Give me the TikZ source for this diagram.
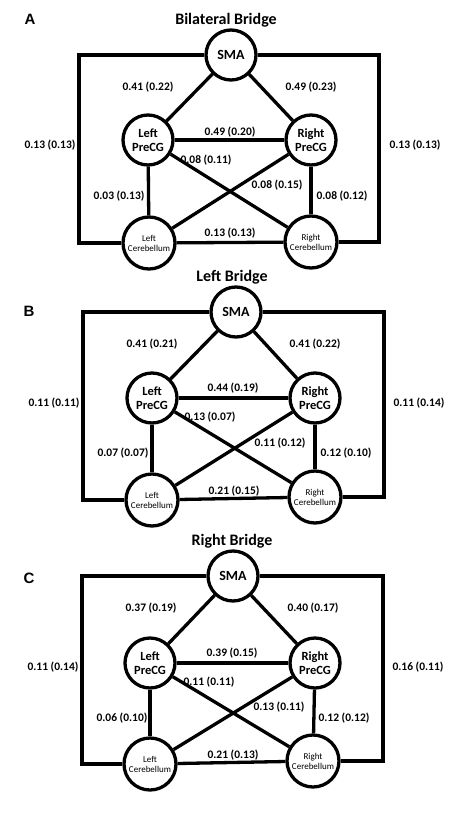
\documentclass[tikz,border=0pt]{standalone}
\usepackage{fontspec}
\setmainfont{Carlito}
\newfontfamily\letterfont{Liberation Sans}

\begin{document}
\begin{tikzpicture}[
x = 1pt,
y = -1pt,
every node/.style = {
	font = \bfseries\fontsize{11.5}{13}\selectfont,
	inner sep = 1pt
},
link/.style = {
	line width = 3.3pt
},
region/.style = {
	draw,
	circle,
	line width = 3.3pt,
	minimum size = 50pt,
	align = center,
	font = \bfseries\fontsize{12.5}{14}\selectfont
},
sma/.style = {
	region,
	font = \bfseries\fontsize{14}{16}\selectfont
},
cereb/.style = {
	region,
	minimum size = 52pt,
	font = \fontsize{9}{10}\selectfont
},
heading/.style = {
	font = \bfseries\fontsize{16}{18}\selectfont
},
panel/.style = {
	font = \letterfont\bfseries\fontsize{15}{17}\selectfont
}
]
\useasboundingbox (0,0) rectangle (474,814);

% A
\node (letter_a) [panel] at (30,19) {A};
\node (title_a) [heading] at (226,20) {Bilateral Bridge};
\node (sma_a) [sma] at (231,55) {SMA};
\node (lpre_a) [region] at (148,140) {Left\\PreCG};
\node (rpre_a) [region] at (311,140) {Right\\PreCG};
\node (lcer_a) [cereb] at (149,243) {Left\\Cerebellum};
\node (rcer_a) [cereb] at (311,242) {Right\\Cerebellum};
\coordinate (ltop_a) at (79,55);
\coordinate (rtop_a) at (379,55);
\draw [link] (sma_a) -- (ltop_a) |- (lcer_a);
\draw [link] (sma_a) -- (rtop_a) |- (rcer_a);
\draw [link] (sma_a) -- (lpre_a);
\draw [link] (sma_a) -- (rpre_a);
\draw [link] (lpre_a) -- (rpre_a);
\draw [link] (lpre_a) -- (lcer_a);
\draw [link] (rpre_a) -- (rcer_a);
\draw [link] (lpre_a) -- (rcer_a);
\draw [link] (rpre_a) -- (lcer_a);
\draw [link] (lcer_a) -- (rcer_a);
\node (w_sl_a) at (148,87) {0.41 (0.22)};
\node (w_sr_a) at (311,87) {0.49 (0.23)};
\node (w_pp_a) at (230,132) {0.49 (0.20)};
\node (w_lx_a) at (206,160) {0.08 (0.11)};
\node (w_rx_a) at (277,185) {0.08 (0.15)};
\node (w_ll_a) at (119,196) {0.03 (0.13)};
\node (w_rr_a) at (342,196) {0.08 (0.12)};
\node (w_cc_a) at (230,233) {0.13 (0.13)};
\node (w_lo_a) at (50,145) {0.13 (0.13)};
\node (w_ro_a) at (415,145) {0.13 (0.13)};

% B
\node (letter_b) [panel] at (29,311) {B};
\node (title_b) [heading] at (232,277) {Left Bridge};
\node (sma_b) [sma] at (236,312) {SMA};
\node (lpre_b) [region] at (152,398) {Left\\PreCG};
\node (rpre_b) [region] at (315,398) {Right\\PreCG};
\node (lcer_b) [cereb] at (152,500) {Left\\Cerebellum};
\node (rcer_b) [cereb] at (315,497) {Right\\Cerebellum};
\coordinate (ltop_b) at (83,312);
\coordinate (rtop_b) at (384,312);
\draw [link] (sma_b) -- (ltop_b) |- (lcer_b);
\draw [link] (sma_b) -- (rtop_b) |- (rcer_b);
\draw [link] (sma_b) -- (lpre_b);
\draw [link] (sma_b) -- (rpre_b);
\draw [link] (lpre_b) -- (rpre_b);
\draw [link] (lpre_b) -- (lcer_b);
\draw [link] (rpre_b) -- (rcer_b);
\draw [link] (lpre_b) -- (rcer_b);
\draw [link] (rpre_b) -- (lcer_b);
\draw [link] (lcer_b) -- (rcer_b);
\node (w_sl_b) at (152,344) {0.41 (0.21)};
\node (w_sr_b) at (315,344) {0.41 (0.22)};
\node (w_pp_b) at (233,388) {0.44 (0.19)};
\node (w_lx_b) at (210,417) {0.13 (0.07)};
\node (w_rx_b) at (280,443) {0.11 (0.12)};
\node (w_ll_b) at (123,453) {0.07 (0.07)};
\node (w_rr_b) at (346,453) {0.12 (0.10)};
\node (w_cc_b) at (234,491) {0.21 (0.15)};
\node (w_lo_b) at (54,403) {0.11 (0.11)};
\node (w_ro_b) at (419,403) {0.11 (0.14)};

% C
\node (letter_c) [panel] at (29,578) {C};
\node (title_c) [heading] at (232,541) {Right Bridge};
\node (sma_c) [sma] at (233,576) {SMA};
\node (lpre_c) [region] at (150,663) {Left\\PreCG};
\node (rpre_c) [region] at (315,663) {Right\\PreCG};
\node (lcer_c) [cereb] at (150,764) {Left\\Cerebellum};
\node (rcer_c) [cereb] at (313,761) {Right\\Cerebellum};
\coordinate (ltop_c) at (82,576);
\coordinate (rtop_c) at (383,576);
\draw [link] (sma_c) -- (ltop_c) |- (lcer_c);
\draw [link] (sma_c) -- (rtop_c) |- (rcer_c);
\draw [link] (sma_c) -- (lpre_c);
\draw [link] (sma_c) -- (rpre_c);
\draw [link] (lpre_c) -- (rpre_c);
\draw [link] (lpre_c) -- (lcer_c);
\draw [link] (rpre_c) -- (rcer_c);
\draw [link] (lpre_c) -- (rcer_c);
\draw [link] (rpre_c) -- (lcer_c);
\draw [link] (lcer_c) -- (rcer_c);
\node (w_sl_c) at (151,608) {0.37 (0.19)};
\node (w_sr_c) at (313,608) {0.40 (0.17)};
\node (w_pp_c) at (232,653) {0.39 (0.15)};
\node (w_lx_c) at (209,682) {0.11 (0.11)};
\node (w_rx_c) at (279,707) {0.13 (0.11)};
\node (w_ll_c) at (122,718) {0.06 (0.10)};
\node (w_rr_c) at (344,718) {0.12 (0.12)};
\node (w_cc_c) at (233,755) {0.21 (0.13)};
\node (w_lo_c) at (53,667) {0.11 (0.14)};
\node (w_ro_c) at (418,667) {0.16 (0.11)};

\end{tikzpicture}
\end{document}
